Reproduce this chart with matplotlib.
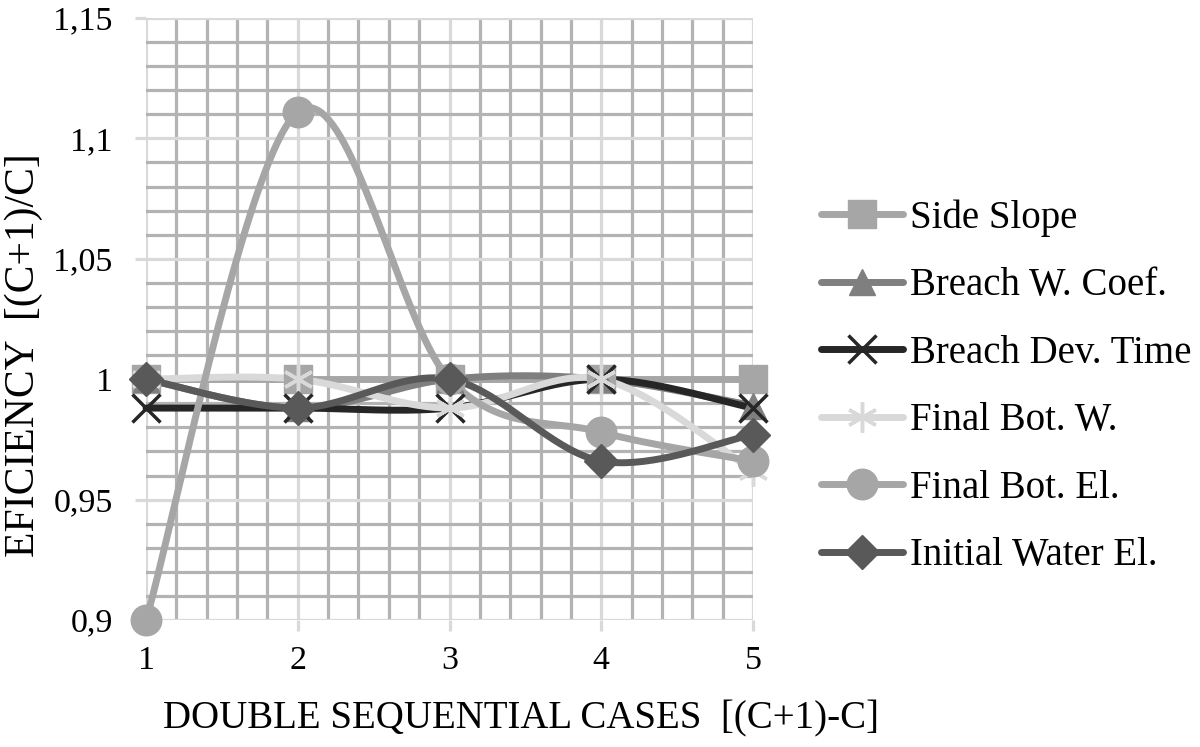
import numpy as np
import matplotlib.pyplot as plt
from matplotlib.ticker import MultipleLocator, FuncFormatter

plt.rcParams["font.family"] = ["Liberation Serif", "DejaVu Serif"]

# Daten
cases = [1, 2, 3, 4, 5]
side_slope = [1.0, 1.0, 1.0, 1.0, 1.0]
breach_w_coef = [1.0, 0.988, 1.0, 1.0, 0.989]
breach_dev_time = [0.988, 0.988, 0.988, 1.0, 0.988]
final_bot_w = [1.0, 1.0, 0.988, 1.0, 0.962]
final_bot_el = [0.9, 1.111, 1.0, 0.978, 0.966]
initial_water_el = [1.0, 0.988, 1.0, 0.966, 0.977]

labels = ["Side Slope", "Breach W. Coef.", "Breach Dev. Time",
          "Final Bot. W.", "Final Bot. El.", "Initial Water El."]
serien = [side_slope, breach_w_coef, breach_dev_time,
          final_bot_w, final_bot_el, initial_water_el]
farben = ["#a6a6a6", "#7f7f7f", "#262626", "#d9d9d9", "#a6a6a6", "#595959"]
marker = ["s", "^", "x", (6, 2, 0), "o", "D"]
msize = [20, 19, 20, 22, 22, 17]


# geglaettete Linie wie in Excel (Bezier durch die Punkte)
def glaetten(x, y, n=40):
    x = np.asarray(x, float)
    y = np.asarray(y, float)
    px, py = [], []
    for i in range(len(x) - 1):
        x0, y0 = (x[i - 1], y[i - 1]) if i > 0 else (x[i], y[i])
        x3, y3 = (x[i + 2], y[i + 2]) if i + 2 < len(x) else (x[i + 1], y[i + 1])
        c1x = x[i] + (x[i + 1] - x0) / 6
        c1y = y[i] + (y[i + 1] - y0) / 6
        c2x = x[i + 1] - (x3 - x[i]) / 6
        c2y = y[i + 1] - (y3 - y[i]) / 6
        t = np.linspace(0, 1, n)
        bx = (1 - t) ** 3 * x[i] + 3 * (1 - t) ** 2 * t * c1x + 3 * (1 - t) * t ** 2 * c2x + t ** 3 * x[i + 1]
        by = (1 - t) ** 3 * y[i] + 3 * (1 - t) ** 2 * t * c1y + 3 * (1 - t) * t ** 2 * c2y + t ** 3 * y[i + 1]
        px.extend(bx)
        py.extend(by)
    return px, py


fig = plt.figure(figsize=(12, 7.47), dpi=100)
ax = fig.add_axes([0.1217, 0.17, 0.5058, 0.806])

for s, lab, c, m, ms in zip(serien, labels, farben, marker, msize):
    sx, sy = glaetten(cases, s)
    ax.plot(sx, sy, color=c, lw=5, solid_capstyle="round", zorder=3, clip_on=False)
    mew = 2.5 if m == "x" or isinstance(m, tuple) else 1
    ax.plot(cases, s, ls="none", marker=m, ms=ms, color=c, mec=c, mew=mew, zorder=4, clip_on=False)
    ax.plot([], [], color=c, lw=5, marker=m, ms=ms, mec=c, mew=mew,
            solid_capstyle="round", label=lab)

ax.set_xlim(1, 5)
ax.set_ylim(0.9, 1.15)
ax.xaxis.set_major_locator(MultipleLocator(1))
ax.xaxis.set_minor_locator(MultipleLocator(0.2))
ax.yaxis.set_major_locator(MultipleLocator(0.05))
ax.yaxis.set_minor_locator(MultipleLocator(0.01))
ax.yaxis.set_major_formatter(FuncFormatter(lambda v, p: ("%g" % round(v, 2)).replace(".", ",")))

ax.grid(which="minor", color="#b3b3b3", lw=2.3, zorder=0)
ax.grid(which="major", color="#d9d9d9", lw=2.3, zorder=1)
ax.set_axisbelow(True)
for sp in ax.spines.values():
    sp.set_visible(False)
ax.tick_params(which="minor", length=0)
ax.tick_params(which="major", length=8, width=2.3, color="#d9d9d9")
ax.tick_params(which="major", axis="y", pad=16)
ax.tick_params(which="major", axis="x", pad=10)
ax.tick_params(labelsize=24.5)

ax.set_xlabel("DOUBLE SEQUENTIAL CASES  [(C+1)-C]", fontsize=28, va="top")
ax.xaxis.set_label_coords(0.618, -0.133)
ax.set_ylabel("EFICIENCY  [(C+1)/C]", fontsize=30)
ax.yaxis.set_label_coords(-0.17, 0.44)

fig.legend(loc="upper left", bbox_to_anchor=(0.655, 0.78), frameon=False,
           fontsize=28, handlelength=2.1, handletextpad=0.2, labelspacing=0.785)

fig.savefig("out.png", dpi=100)
